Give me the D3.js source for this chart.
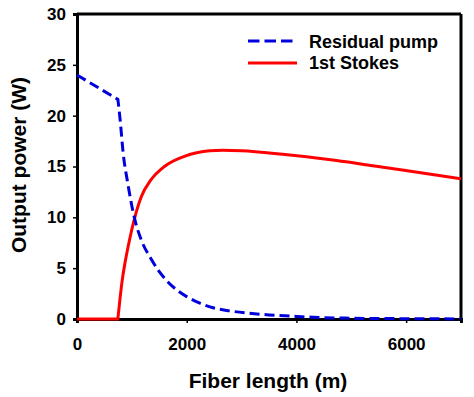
<!DOCTYPE html>
<html>
<head>
<meta charset="utf-8">
<script src="https://cdn.jsdelivr.net/npm/d3@7"></script>
<style>
  body { margin: 0; background: #fff; }
  svg text { font-family: Arial, "Liberation Sans", sans-serif; font-weight: bold; }
</style>
</head>
<body>
<svg id="chart" width="474" height="397"></svg>
<script>
// data
const xTicks = [0, 2000, 4000, 6000];
const yTicks = [0, 5, 10, 15, 20, 25, 30];

// pump: straight part then decay
const pumpLen   = [0, 745, 790, 836, 927, 1049, 1170, 1351, 1630, 1870, 2000, 2240, 2480, 2780, 3100, 3500, 4000, 4300, 5000, 6000, 7000];
const pumpPower = [24, 21.6, 19.4, 16.6, 13.3, 9.9, 7.8, 5.9, 3.8, 2.65, 2.2, 1.55, 1.1, 0.8, 0.58, 0.4, 0.25, 0.17, 0.08, 0.03, 0.01];

const stokesLen   = [0, 745, 782, 824, 878, 958, 1049, 1170, 1351, 1594, 1958, 2420, 2660, 3000, 3750, 4660, 5870, 7000];
const stokesPower = [0, 0, 1.9, 3.8, 5.6, 7.8, 9.9, 12.0, 13.7, 15.0, 16.0, 16.55, 16.6, 16.55, 16.2, 15.65, 14.7, 13.8];

const svg = d3.select("#chart");
const mLeft = 77, mRight = 461, mTop = 14, mBottom = 319;

const x = d3.scaleLinear().domain([0, 7000]).range([mLeft, mRight]);
const y = d3.scaleLinear().domain([0, 30]).range([mBottom, mTop]);

// frame top / right
svg.append("line").attr("x1", mLeft).attr("x2", mRight).attr("y1", mTop).attr("y2", mTop)
  .attr("stroke", "#000").attr("stroke-width", 3);
svg.append("line").attr("x1", mRight).attr("x2", mRight).attr("y1", mTop).attr("y2", mBottom)
  .attr("stroke", "#000").attr("stroke-width", 3);

// axes
const xAxis = svg.append("g").attr("transform", "translate(0," + mBottom + ")")
  .call(d3.axisBottom(x).tickValues(xTicks).tickSize(4).tickFormat(d3.format("d")));
const yAxis = svg.append("g").attr("transform", "translate(" + mLeft + ",0)")
  .call(d3.axisLeft(y).tickValues(yTicks).tickSize(4).tickPadding(7));

[xAxis, yAxis].forEach(function (g) {
  g.select(".domain").attr("stroke", "#000").attr("stroke-width", 3);
  g.selectAll(".tick line").attr("stroke", "#000").attr("stroke-width", 1.5);
  g.selectAll(".tick text").attr("fill", "#000").style("font-size", "17px")
    .style("font-family", "Arial, 'Liberation Sans', sans-serif").style("font-weight", "bold");
});
xAxis.selectAll(".tick text").attr("dy", null).attr("y", 31);

// curves: linear flat/straight start, smooth after the threshold
const smooth = d3.line()
  .x(function (d) { return x(d[0]); })
  .y(function (d) { return y(d[1]); })
  .curve(d3.curveMonotoneX);
const straight = d3.line()
  .x(function (d) { return x(d[0]); })
  .y(function (d) { return y(d[1]); });

function twoPart(data) {
  const head = straight(data.slice(0, 2));
  const tail = smooth(data.slice(1)).replace(/^M/, "L");
  return head + tail;
}

const pump = pumpLen.map(function (v, i) { return [v, pumpPower[i]]; });
const stokes = stokesLen.map(function (v, i) { return [v, stokesPower[i]]; });

svg.append("path").attr("d", twoPart(stokes))
  .attr("fill", "none").attr("stroke", "#ff0000").attr("stroke-width", 3);
svg.append("path").attr("d", twoPart(pump))
  .attr("fill", "none").attr("stroke", "#0000dd").attr("stroke-width", 3)
  .attr("stroke-dasharray", "10,5");

// legend
const legend = [
  { name: "Residual pump", color: "#0000dd", dash: "11.5,5", y: 41, x2: 293, ty: 48 },
  { name: "1st Stokes", color: "#ff0000", dash: null, y: 63, x2: 297, ty: 69 }
];
legend.forEach(function (d) {
  svg.append("line").attr("x1", 248).attr("x2", d.x2).attr("y1", d.y).attr("y2", d.y)
    .attr("stroke", d.color).attr("stroke-width", 3)
    .attr("stroke-dasharray", d.dash);
  svg.append("text").attr("x", 309).attr("y", d.ty)
    .style("font-size", "18px").text(d.name);
});

// axis titles
svg.append("text").attr("x", 268).attr("y", 388).attr("text-anchor", "middle")
  .style("font-size", "21px").text("Fiber length (m)");
svg.append("text").attr("transform", "translate(26,165) rotate(-90)")
  .attr("text-anchor", "middle").style("font-size", "21px").text("Output power (W)");
</script>
</body>
</html>
